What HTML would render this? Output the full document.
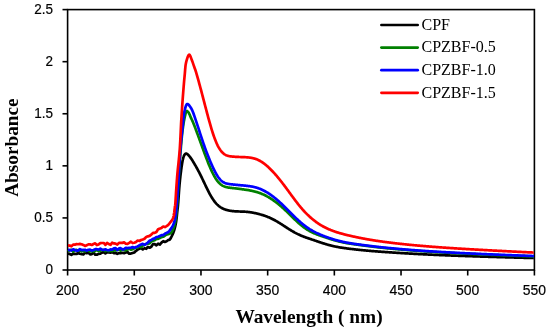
<!DOCTYPE html>
<html><head><meta charset="utf-8"><style>
html,body{margin:0;padding:0;background:#fff;width:550px;height:331px;overflow:hidden;position:relative}
.t{font-family:"Liberation Sans",sans-serif;font-size:15.0px;fill:#000;stroke:#000;stroke-width:0.2px}
.lg{font-family:"Liberation Serif",serif;font-size:16px;fill:#000}
.ax{font-family:"Liberation Serif",serif;font-weight:bold;font-size:19px;fill:#000}
</style></head><body>
<svg width="550" height="331" viewBox="0 0 550 331" style="position:absolute;left:0;top:0;will-change:transform">
<rect x="67.6" y="9.6" width="466.79999999999995" height="260.4" fill="none" stroke="#000" stroke-width="1.6"/>
<line x1="62.5" y1="270.00" x2="67.6" y2="270.00" stroke="#000" stroke-width="1.6"/>
<text transform="translate(53,274.40) scale(0.9,1)" text-anchor="end" class="t">0</text>
<line x1="62.5" y1="217.92" x2="67.6" y2="217.92" stroke="#000" stroke-width="1.6"/>
<text transform="translate(53,222.32) scale(0.9,1)" text-anchor="end" class="t">0.5</text>
<line x1="62.5" y1="165.84" x2="67.6" y2="165.84" stroke="#000" stroke-width="1.6"/>
<text transform="translate(53,170.24) scale(0.9,1)" text-anchor="end" class="t">1</text>
<line x1="62.5" y1="113.76" x2="67.6" y2="113.76" stroke="#000" stroke-width="1.6"/>
<text transform="translate(53,118.16) scale(0.9,1)" text-anchor="end" class="t">1.5</text>
<line x1="62.5" y1="61.68" x2="67.6" y2="61.68" stroke="#000" stroke-width="1.6"/>
<text transform="translate(53,66.08) scale(0.9,1)" text-anchor="end" class="t">2</text>
<line x1="62.5" y1="9.60" x2="67.6" y2="9.60" stroke="#000" stroke-width="1.6"/>
<text transform="translate(53,14.00) scale(0.9,1)" text-anchor="end" class="t">2.5</text>
<line x1="67.60" y1="270.0" x2="67.60" y2="275.5" stroke="#000" stroke-width="1.6"/>
<text transform="translate(67.60,295.2) scale(0.93,1)" text-anchor="middle" class="t">200</text>
<line x1="134.29" y1="270.0" x2="134.29" y2="275.5" stroke="#000" stroke-width="1.6"/>
<text transform="translate(134.29,295.2) scale(0.93,1)" text-anchor="middle" class="t">250</text>
<line x1="200.97" y1="270.0" x2="200.97" y2="275.5" stroke="#000" stroke-width="1.6"/>
<text transform="translate(200.97,295.2) scale(0.93,1)" text-anchor="middle" class="t">300</text>
<line x1="267.66" y1="270.0" x2="267.66" y2="275.5" stroke="#000" stroke-width="1.6"/>
<text transform="translate(267.66,295.2) scale(0.93,1)" text-anchor="middle" class="t">350</text>
<line x1="334.34" y1="270.0" x2="334.34" y2="275.5" stroke="#000" stroke-width="1.6"/>
<text transform="translate(334.34,295.2) scale(0.93,1)" text-anchor="middle" class="t">400</text>
<line x1="401.03" y1="270.0" x2="401.03" y2="275.5" stroke="#000" stroke-width="1.6"/>
<text transform="translate(401.03,295.2) scale(0.93,1)" text-anchor="middle" class="t">450</text>
<line x1="467.71" y1="270.0" x2="467.71" y2="275.5" stroke="#000" stroke-width="1.6"/>
<text transform="translate(467.71,295.2) scale(0.93,1)" text-anchor="middle" class="t">500</text>
<line x1="534.40" y1="270.0" x2="534.40" y2="275.5" stroke="#000" stroke-width="1.6"/>
<text transform="translate(534.40,295.2) scale(0.93,1)" text-anchor="middle" class="t">550</text>
<path d="M68.00 253.68 L69.70 253.95 L71.40 254.86 L73.10 253.70 L74.80 253.80 L76.50 253.99 L78.20 252.97 L79.90 253.77 L81.60 254.05 L83.30 254.44 L85.00 252.68 L86.70 253.18 L88.40 252.63 L90.10 254.40 L91.80 254.08 L93.50 252.43 L95.20 254.75 L96.90 254.68 L98.60 253.88 L100.30 253.75 L102.00 252.58 L103.70 252.19 L105.40 253.44 L107.10 252.23 L108.80 252.52 L110.50 252.60 L112.20 252.01 L113.90 253.04 L115.60 252.92 L117.30 253.86 L119.00 252.98 L120.70 253.21 L122.40 252.78 L124.10 253.10 L125.80 252.51 L127.50 251.98 L129.20 253.68 L130.90 253.56 L132.60 253.01 L134.30 252.47 L136.00 250.79 L137.70 249.56 L139.40 248.85 L141.10 247.93 L142.80 249.46 L144.50 248.23 L146.20 248.79 L147.90 246.95 L149.60 247.69 L151.30 246.82 L153.00 244.12 L154.70 244.08 L156.40 245.31 L158.10 243.74 L159.80 244.56 L161.50 242.58 L163.20 241.19 L164.90 241.95 L166.60 241.31 L168.30 239.98 L168.35 239.96 L168.41 239.96 L168.46 239.95 L168.52 239.94 L168.57 239.94 L168.63 239.94 L168.68 239.93 L168.74 239.93 L168.79 239.93 L168.85 239.92 L168.90 239.92 L168.95 239.92 L169.01 239.91 L169.06 239.90 L169.12 239.89 L169.17 239.88 L169.23 239.87 L169.28 239.86 L169.33 239.84 L169.39 239.82 L169.44 239.79 L169.49 239.77 L169.55 239.74 L169.60 239.70 L169.69 239.63 L169.78 239.55 L169.87 239.45 L169.97 239.35 L170.06 239.23 L170.15 239.11 L170.24 238.98 L170.33 238.84 L170.41 238.70 L170.50 238.55 L170.59 238.39 L170.68 238.23 L170.77 238.07 L170.85 237.90 L170.94 237.73 L171.03 237.56 L171.11 237.39 L171.20 237.21 L171.28 237.04 L171.37 236.87 L171.45 236.70 L171.53 236.53 L171.62 236.36 L171.70 236.20 L171.79 236.02 L171.89 235.84 L171.98 235.65 L172.07 235.47 L172.16 235.28 L172.26 235.10 L172.35 234.91 L172.44 234.72 L172.53 234.53 L172.62 234.34 L172.71 234.15 L172.79 233.95 L172.88 233.75 L172.97 233.55 L173.06 233.35 L173.14 233.15 L173.23 232.94 L173.31 232.73 L173.39 232.51 L173.48 232.30 L173.56 232.08 L173.64 231.86 L173.72 231.63 L173.80 231.40 L173.90 231.10 L174.00 230.79 L174.10 230.48 L174.20 230.16 L174.30 229.84 L174.39 229.51 L174.49 229.18 L174.58 228.84 L174.67 228.50 L174.76 228.15 L174.86 227.80 L174.94 227.45 L175.03 227.09 L175.12 226.73 L175.20 226.37 L175.29 226.00 L175.37 225.64 L175.45 225.26 L175.53 224.89 L175.61 224.52 L175.68 224.14 L175.76 223.76 L175.83 223.38 L175.90 223.00 L175.98 222.55 L176.06 222.09 L176.13 221.61 L176.20 221.13 L176.27 220.63 L176.34 220.13 L176.41 219.63 L176.47 219.12 L176.53 218.60 L176.59 218.09 L176.65 217.57 L176.70 217.05 L176.76 216.54 L176.81 216.02 L176.86 215.51 L176.91 215.01 L176.96 214.51 L177.01 214.02 L177.06 213.54 L177.11 213.07 L177.16 212.60 L177.20 212.16 L177.25 211.72 L177.30 211.30 L177.33 211.00 L177.37 210.72 L177.40 210.44 L177.43 210.18 L177.46 209.92 L177.49 209.67 L177.52 209.43 L177.55 209.19 L177.58 208.95 L177.61 208.72 L177.63 208.49 L177.66 208.25 L177.69 208.02 L177.72 207.78 L177.74 207.54 L177.77 207.29 L177.80 207.04 L177.82 206.78 L177.85 206.51 L177.88 206.23 L177.91 205.94 L177.94 205.64 L177.97 205.33 L178.00 205.00 L178.06 204.38 L178.11 203.71 L178.17 203.01 L178.23 202.27 L178.29 201.49 L178.35 200.69 L178.41 199.86 L178.47 199.01 L178.53 198.13 L178.59 197.25 L178.65 196.34 L178.71 195.43 L178.78 194.52 L178.84 193.60 L178.90 192.68 L178.97 191.76 L179.03 190.86 L179.10 189.96 L179.16 189.08 L179.23 188.21 L179.30 187.37 L179.36 186.55 L179.43 185.76 L179.50 185.00 L179.55 184.40 L179.61 183.82 L179.66 183.24 L179.72 182.67 L179.77 182.10 L179.82 181.54 L179.88 180.99 L179.93 180.44 L179.99 179.90 L180.04 179.36 L180.10 178.83 L180.15 178.30 L180.21 177.77 L180.27 177.24 L180.33 176.72 L180.39 176.20 L180.45 175.67 L180.51 175.15 L180.57 174.63 L180.63 174.11 L180.70 173.58 L180.76 173.06 L180.83 172.53 L180.90 172.00 L180.97 171.48 L181.04 170.95 L181.11 170.41 L181.18 169.87 L181.25 169.33 L181.32 168.78 L181.40 168.23 L181.47 167.68 L181.55 167.13 L181.62 166.58 L181.70 166.04 L181.78 165.50 L181.86 164.97 L181.94 164.44 L182.02 163.92 L182.10 163.41 L182.19 162.91 L182.27 162.42 L182.36 161.94 L182.44 161.48 L182.53 161.04 L182.62 160.61 L182.71 160.19 L182.80 159.80 L182.86 159.56 L182.91 159.33 L182.97 159.09 L183.02 158.87 L183.08 158.64 L183.13 158.42 L183.19 158.21 L183.24 157.99 L183.30 157.78 L183.35 157.58 L183.41 157.38 L183.47 157.18 L183.52 156.99 L183.58 156.81 L183.65 156.62 L183.71 156.45 L183.77 156.27 L183.84 156.10 L183.91 155.94 L183.98 155.78 L184.06 155.63 L184.14 155.48 L184.22 155.34 L184.30 155.20 L184.36 155.11 L184.42 155.01 L184.48 154.92 L184.55 154.83 L184.61 154.73 L184.68 154.64 L184.74 154.55 L184.81 154.47 L184.88 154.38 L184.95 154.30 L185.02 154.22 L185.09 154.14 L185.16 154.07 L185.23 154.00 L185.31 153.94 L185.38 153.88 L185.46 153.82 L185.53 153.77 L185.61 153.73 L185.69 153.69 L185.76 153.66 L185.84 153.63 L185.92 153.61 L186.00 153.60 L186.09 153.60 L186.30 153.62 L186.80 153.81 L187.30 154.14 L187.80 154.55 L188.30 155.00 L188.80 155.51 L189.30 156.09 L189.80 156.74 L190.30 157.42 L190.80 158.13 L191.30 158.85 L191.80 159.59 L192.30 160.36 L192.80 161.15 L193.30 161.95 L193.80 162.77 L194.30 163.61 L194.80 164.46 L195.30 165.32 L195.80 166.20 L196.30 167.08 L196.80 167.98 L197.30 168.90 L197.80 169.82 L198.30 170.76 L198.80 171.71 L199.30 172.67 L199.80 173.65 L200.30 174.64 L200.80 175.65 L201.30 176.66 L201.80 177.69 L202.30 178.72 L202.80 179.76 L203.30 180.81 L203.80 181.87 L204.30 182.92 L204.80 183.98 L205.30 185.03 L205.80 186.08 L206.30 187.12 L206.80 188.15 L207.30 189.17 L207.80 190.18 L208.30 191.17 L208.80 192.14 L209.30 193.09 L209.80 194.02 L210.30 194.92 L210.80 195.80 L211.30 196.65 L211.80 197.48 L212.30 198.28 L212.80 199.05 L213.30 199.78 L213.80 200.49 L214.30 201.17 L214.80 201.82 L215.30 202.44 L215.80 203.02 L216.30 203.58 L216.80 204.11 L217.30 204.61 L217.80 205.08 L218.30 205.53 L218.80 205.95 L219.30 206.34 L219.80 206.71 L220.30 207.06 L220.80 207.39 L221.30 207.70 L221.80 207.98 L222.30 208.25 L222.80 208.51 L223.30 208.74 L223.80 208.96 L224.30 209.17 L224.80 209.37 L225.30 209.55 L225.80 209.72 L226.30 209.88 L226.80 210.03 L227.30 210.16 L227.80 210.29 L228.30 210.41 L228.80 210.52 L229.30 210.62 L229.80 210.71 L230.30 210.79 L230.80 210.87 L231.30 210.93 L231.80 211.00 L232.30 211.06 L232.80 211.11 L233.30 211.16 L233.80 211.21 L234.30 211.25 L234.80 211.29 L235.30 211.32 L235.80 211.36 L236.30 211.38 L236.80 211.41 L237.30 211.43 L237.80 211.45 L238.30 211.47 L238.80 211.49 L239.30 211.51 L239.80 211.52 L240.30 211.54 L240.80 211.55 L241.30 211.57 L241.80 211.58 L242.30 211.60 L242.80 211.62 L243.30 211.64 L243.80 211.66 L244.30 211.68 L244.80 211.71 L245.30 211.74 L245.80 211.77 L246.30 211.81 L246.80 211.85 L247.30 211.90 L247.80 211.94 L248.30 212.00 L248.80 212.05 L249.30 212.12 L249.80 212.18 L250.30 212.25 L250.80 212.33 L251.30 212.41 L251.80 212.49 L252.30 212.58 L252.80 212.67 L253.30 212.77 L253.80 212.87 L254.30 212.97 L254.80 213.08 L255.30 213.19 L255.80 213.30 L256.30 213.41 L256.80 213.53 L257.30 213.65 L257.80 213.77 L258.30 213.90 L258.80 214.03 L259.30 214.16 L259.80 214.29 L260.30 214.43 L260.80 214.57 L261.30 214.71 L261.80 214.86 L262.30 215.01 L262.80 215.16 L263.30 215.32 L263.80 215.48 L264.30 215.65 L264.80 215.82 L265.30 215.99 L265.80 216.17 L266.30 216.36 L266.80 216.55 L267.30 216.74 L267.80 216.94 L268.30 217.14 L268.80 217.35 L269.30 217.56 L269.80 217.78 L270.30 218.01 L270.80 218.24 L271.30 218.47 L271.80 218.71 L272.30 218.96 L272.80 219.21 L273.30 219.46 L273.80 219.73 L274.30 219.99 L274.80 220.26 L275.30 220.54 L275.80 220.82 L276.30 221.10 L276.80 221.39 L277.30 221.69 L277.80 221.99 L278.30 222.29 L278.80 222.59 L279.30 222.90 L279.80 223.21 L280.30 223.53 L280.80 223.84 L281.30 224.16 L281.80 224.48 L282.30 224.81 L282.80 225.13 L283.30 225.46 L283.80 225.78 L284.30 226.11 L284.80 226.44 L285.30 226.76 L285.80 227.09 L286.30 227.42 L286.80 227.74 L287.30 228.06 L287.80 228.38 L288.30 228.70 L288.80 229.02 L289.30 229.34 L289.80 229.65 L290.30 229.96 L290.80 230.26 L291.30 230.57 L291.80 230.87 L292.30 231.16 L292.80 231.45 L293.30 231.74 L293.80 232.02 L294.30 232.30 L294.80 232.58 L295.30 232.84 L295.80 233.11 L296.30 233.37 L296.80 233.62 L297.30 233.87 L297.80 234.12 L298.30 234.36 L298.80 234.59 L299.30 234.82 L299.80 235.05 L300.30 235.27 L300.80 235.49 L301.30 235.70 L301.80 235.91 L302.30 236.11 L302.80 236.31 L303.30 236.50 L303.80 236.70 L304.30 236.88 L304.80 237.07 L305.30 237.25 L305.80 237.43 L306.30 237.61 L306.80 237.79 L307.30 237.96 L307.80 238.13 L308.30 238.31 L308.80 238.48 L309.30 238.65 L309.80 238.82 L310.30 238.98 L310.80 239.15 L311.30 239.32 L311.80 239.49 L312.30 239.66 L312.80 239.83 L313.30 240.00 L313.80 240.16 L314.30 240.33 L314.80 240.50 L315.30 240.67 L315.80 240.84 L316.30 241.01 L316.80 241.18 L317.30 241.35 L317.80 241.52 L318.30 241.69 L318.80 241.86 L319.30 242.03 L319.80 242.20 L320.30 242.36 L320.80 242.53 L321.30 242.70 L321.80 242.86 L322.30 243.02 L322.80 243.18 L323.30 243.34 L323.80 243.50 L324.30 243.66 L324.80 243.81 L325.30 243.97 L325.80 244.12 L326.30 244.27 L326.80 244.42 L327.30 244.56 L327.80 244.71 L328.30 244.85 L328.80 244.98 L329.30 245.12 L329.80 245.25 L330.30 245.38 L330.80 245.51 L331.30 245.64 L331.80 245.76 L332.30 245.88 L332.80 246.00 L333.30 246.12 L333.80 246.23 L334.30 246.34 L334.80 246.45 L335.30 246.55 L335.80 246.65 L336.30 246.75 L336.80 246.85 L337.30 246.94 L337.80 247.04 L338.30 247.13 L338.80 247.21 L339.30 247.30 L339.80 247.38 L340.30 247.47 L340.80 247.55 L341.30 247.63 L341.80 247.70 L342.30 247.78 L342.80 247.85 L343.30 247.93 L343.80 248.00 L344.30 248.07 L344.80 248.14 L345.30 248.21 L345.80 248.27 L346.30 248.34 L346.80 248.41 L347.30 248.47 L347.80 248.54 L348.30 248.60 L348.80 248.66 L349.30 248.72 L349.80 248.79 L350.30 248.85 L350.80 248.91 L351.30 248.97 L351.80 249.03 L352.30 249.09 L352.80 249.15 L353.30 249.20 L353.80 249.26 L354.30 249.32 L354.80 249.38 L355.30 249.43 L355.80 249.49 L356.30 249.54 L356.80 249.60 L357.30 249.65 L357.80 249.71 L358.30 249.76 L358.80 249.81 L359.30 249.86 L359.80 249.92 L360.30 249.97 L360.80 250.02 L361.30 250.07 L361.80 250.12 L362.30 250.17 L362.80 250.22 L363.30 250.27 L363.80 250.31 L364.30 250.36 L364.80 250.41 L365.30 250.46 L365.80 250.50 L366.30 250.55 L366.80 250.59 L367.30 250.64 L367.80 250.68 L368.30 250.73 L368.80 250.77 L369.30 250.82 L369.80 250.86 L370.30 250.90 L370.80 250.94 L371.30 250.99 L371.80 251.03 L372.30 251.07 L372.80 251.11 L373.30 251.15 L373.80 251.19 L374.30 251.23 L374.80 251.27 L375.30 251.31 L375.80 251.35 L376.30 251.38 L376.80 251.42 L377.30 251.46 L377.80 251.50 L378.30 251.54 L378.80 251.57 L379.30 251.61 L379.80 251.65 L380.30 251.68 L380.80 251.72 L381.30 251.75 L381.80 251.79 L382.30 251.83 L382.80 251.86 L383.30 251.90 L383.80 251.93 L384.30 251.97 L384.80 252.00 L385.30 252.04 L385.80 252.07 L386.30 252.10 L386.80 252.14 L387.30 252.17 L387.80 252.21 L388.30 252.24 L388.80 252.27 L389.30 252.31 L389.80 252.34 L390.30 252.37 L390.80 252.41 L391.30 252.44 L391.80 252.47 L392.30 252.51 L392.80 252.54 L393.30 252.57 L393.80 252.60 L394.30 252.64 L394.80 252.67 L395.30 252.70 L395.80 252.73 L396.30 252.77 L396.80 252.80 L397.30 252.83 L397.80 252.86 L398.30 252.89 L398.80 252.92 L399.30 252.95 L399.80 252.99 L400.30 253.02 L400.80 253.05 L401.30 253.08 L401.80 253.11 L402.30 253.14 L402.80 253.17 L403.30 253.20 L403.80 253.23 L404.30 253.26 L404.80 253.29 L405.30 253.32 L405.80 253.35 L406.30 253.38 L406.80 253.41 L407.30 253.44 L407.80 253.46 L408.30 253.49 L408.80 253.52 L409.30 253.55 L409.80 253.58 L410.30 253.61 L410.80 253.64 L411.30 253.66 L411.80 253.69 L412.30 253.72 L412.80 253.75 L413.30 253.77 L413.80 253.80 L414.30 253.83 L414.80 253.86 L415.30 253.88 L415.80 253.91 L416.30 253.94 L416.80 253.96 L417.30 253.99 L417.80 254.02 L418.30 254.04 L418.80 254.07 L419.30 254.09 L419.80 254.12 L420.30 254.15 L420.80 254.17 L421.30 254.20 L421.80 254.22 L422.30 254.25 L422.80 254.27 L423.30 254.30 L423.80 254.32 L424.30 254.35 L424.80 254.37 L425.30 254.40 L425.80 254.42 L426.30 254.45 L426.80 254.47 L427.30 254.49 L427.80 254.52 L428.30 254.54 L428.80 254.57 L429.30 254.59 L429.80 254.61 L430.30 254.64 L430.80 254.66 L431.30 254.68 L431.80 254.71 L432.30 254.73 L432.80 254.75 L433.30 254.77 L433.80 254.80 L434.30 254.82 L434.80 254.84 L435.30 254.86 L435.80 254.89 L436.30 254.91 L436.80 254.93 L437.30 254.95 L437.80 254.97 L438.30 255.00 L438.80 255.02 L439.30 255.04 L439.80 255.06 L440.30 255.08 L440.80 255.10 L441.30 255.12 L441.80 255.15 L442.30 255.17 L442.80 255.19 L443.30 255.21 L443.80 255.23 L444.30 255.25 L444.80 255.27 L445.30 255.29 L445.80 255.31 L446.30 255.33 L446.80 255.35 L447.30 255.37 L447.80 255.39 L448.30 255.41 L448.80 255.43 L449.30 255.45 L449.80 255.47 L450.30 255.49 L450.80 255.51 L451.30 255.53 L451.80 255.55 L452.30 255.57 L452.80 255.58 L453.30 255.60 L453.80 255.62 L454.30 255.64 L454.80 255.66 L455.30 255.68 L455.80 255.70 L456.30 255.72 L456.80 255.73 L457.30 255.75 L457.80 255.77 L458.30 255.79 L458.80 255.81 L459.30 255.82 L459.80 255.84 L460.30 255.86 L460.80 255.88 L461.30 255.90 L461.80 255.91 L462.30 255.93 L462.80 255.95 L463.30 255.97 L463.80 255.98 L464.30 256.00 L464.80 256.02 L465.30 256.04 L465.80 256.05 L466.30 256.07 L466.80 256.09 L467.30 256.11 L467.80 256.12 L468.30 256.14 L468.80 256.16 L469.30 256.17 L469.80 256.19 L470.30 256.21 L470.80 256.22 L471.30 256.24 L471.80 256.26 L472.30 256.27 L472.80 256.29 L473.30 256.31 L473.80 256.32 L474.30 256.34 L474.80 256.36 L475.30 256.37 L475.80 256.39 L476.30 256.40 L476.80 256.42 L477.30 256.44 L477.80 256.45 L478.30 256.47 L478.80 256.49 L479.30 256.50 L479.80 256.52 L480.30 256.53 L480.80 256.55 L481.30 256.56 L481.80 256.58 L482.30 256.60 L482.80 256.61 L483.30 256.63 L483.80 256.64 L484.30 256.66 L484.80 256.67 L485.30 256.69 L485.80 256.70 L486.30 256.72 L486.80 256.74 L487.30 256.75 L487.80 256.77 L488.30 256.78 L488.80 256.80 L489.30 256.81 L489.80 256.83 L490.30 256.84 L490.80 256.86 L491.30 256.87 L491.80 256.89 L492.30 256.90 L492.80 256.92 L493.30 256.93 L493.80 256.95 L494.30 256.96 L494.80 256.98 L495.30 256.99 L495.80 257.01 L496.30 257.02 L496.80 257.03 L497.30 257.05 L497.80 257.06 L498.30 257.08 L498.80 257.09 L499.30 257.11 L499.80 257.12 L500.30 257.14 L500.80 257.15 L501.30 257.17 L501.80 257.18 L502.30 257.19 L502.80 257.21 L503.30 257.22 L503.80 257.24 L504.30 257.25 L504.80 257.26 L505.30 257.28 L505.80 257.29 L506.30 257.31 L506.80 257.32 L507.30 257.33 L507.80 257.35 L508.30 257.36 L508.80 257.38 L509.30 257.39 L509.80 257.40 L510.30 257.42 L510.80 257.43 L511.30 257.45 L511.80 257.46 L512.30 257.47 L512.80 257.49 L513.30 257.50 L513.80 257.51 L514.30 257.53 L514.80 257.54 L515.30 257.55 L515.80 257.57 L516.30 257.58 L516.80 257.60 L517.30 257.61 L517.80 257.62 L518.30 257.64 L518.80 257.65 L519.30 257.66 L519.80 257.68 L520.30 257.69 L520.80 257.70 L521.30 257.71 L521.80 257.73 L522.30 257.74 L522.80 257.75 L523.30 257.77 L523.80 257.78 L524.30 257.79 L524.80 257.81 L525.30 257.82 L525.80 257.83 L526.30 257.84 L526.80 257.86 L527.30 257.87 L527.80 257.88 L528.30 257.90 L528.80 257.91 L529.30 257.92 L529.80 257.93 L530.30 257.95 L530.80 257.96 L531.30 257.97 L531.80 257.98 L532.30 258.00 L532.80 258.01 L533.30 258.02 L533.80 258.03" fill="none" stroke="#000000" stroke-width="2.7" stroke-linejoin="round" stroke-linecap="butt"/>
<path d="M68.00 251.62 L69.70 249.98 L71.40 249.74 L73.10 251.69 L74.80 250.06 L76.50 249.92 L78.20 250.98 L79.90 250.35 L81.60 251.43 L83.30 250.10 L85.00 251.55 L86.70 250.25 L88.40 250.80 L90.10 251.44 L91.80 250.93 L93.50 251.39 L95.20 250.94 L96.90 249.60 L98.60 251.24 L100.30 250.63 L102.00 250.05 L103.70 249.78 L105.40 251.07 L107.10 250.50 L108.80 251.15 L110.50 250.76 L112.20 251.06 L113.90 250.19 L115.60 250.37 L117.30 250.10 L119.00 249.30 L120.70 250.60 L122.40 249.22 L124.10 250.06 L125.80 250.31 L127.50 249.62 L129.20 248.51 L130.90 249.76 L132.60 249.29 L134.30 248.13 L136.00 247.39 L137.70 247.66 L139.40 245.91 L141.10 247.02 L142.80 245.50 L144.50 244.82 L146.20 243.89 L147.90 243.66 L149.60 243.41 L151.30 241.40 L153.00 240.69 L154.70 240.26 L156.40 238.92 L158.10 238.84 L159.80 238.08 L161.50 237.14 L163.20 236.79 L164.90 235.63 L166.60 234.43 L166.68 234.42 L166.76 234.41 L166.84 234.40 L166.91 234.39 L166.99 234.38 L167.07 234.37 L167.15 234.36 L167.23 234.35 L167.30 234.34 L167.38 234.34 L167.46 234.33 L167.54 234.32 L167.62 234.31 L167.69 234.30 L167.77 234.28 L167.85 234.27 L167.93 234.26 L168.01 234.24 L168.09 234.22 L168.17 234.20 L168.25 234.18 L168.33 234.16 L168.42 234.13 L168.50 234.10 L168.61 234.06 L168.72 234.02 L168.83 233.98 L168.94 233.93 L169.05 233.89 L169.17 233.84 L169.29 233.79 L169.40 233.73 L169.52 233.68 L169.64 233.62 L169.76 233.56 L169.87 233.50 L169.99 233.44 L170.11 233.37 L170.22 233.30 L170.34 233.22 L170.45 233.15 L170.57 233.07 L170.68 232.98 L170.79 232.89 L170.89 232.80 L171.00 232.70 L171.10 232.60 L171.20 232.50 L171.33 232.35 L171.46 232.19 L171.59 232.02 L171.72 231.84 L171.84 231.65 L171.96 231.45 L172.08 231.25 L172.20 231.04 L172.31 230.83 L172.42 230.60 L172.53 230.38 L172.64 230.15 L172.74 229.91 L172.85 229.67 L172.95 229.43 L173.05 229.18 L173.15 228.94 L173.25 228.69 L173.34 228.44 L173.44 228.19 L173.53 227.94 L173.62 227.69 L173.71 227.45 L173.80 227.20 L173.90 226.92 L173.99 226.64 L174.09 226.36 L174.18 226.08 L174.27 225.80 L174.35 225.52 L174.43 225.23 L174.51 224.94 L174.59 224.65 L174.67 224.36 L174.74 224.06 L174.81 223.76 L174.89 223.45 L174.96 223.15 L175.02 222.83 L175.09 222.52 L175.16 222.20 L175.22 221.87 L175.29 221.54 L175.35 221.20 L175.41 220.86 L175.48 220.51 L175.54 220.16 L175.60 219.80 L175.69 219.29 L175.77 218.76 L175.85 218.23 L175.92 217.68 L175.99 217.12 L176.07 216.56 L176.13 215.98 L176.20 215.40 L176.26 214.80 L176.32 214.20 L176.38 213.59 L176.44 212.97 L176.50 212.34 L176.56 211.71 L176.61 211.06 L176.67 210.41 L176.72 209.76 L176.77 209.10 L176.83 208.43 L176.88 207.75 L176.93 207.07 L176.99 206.39 L177.04 205.70 L177.10 205.00 L177.17 204.08 L177.24 203.14 L177.31 202.17 L177.38 201.18 L177.45 200.17 L177.51 199.14 L177.58 198.10 L177.64 197.05 L177.70 195.98 L177.76 194.91 L177.82 193.82 L177.88 192.73 L177.94 191.64 L178.00 190.55 L178.06 189.46 L178.12 188.37 L178.18 187.28 L178.24 186.21 L178.30 185.14 L178.36 184.08 L178.42 183.04 L178.48 182.01 L178.54 180.99 L178.60 180.00 L178.65 179.13 L178.71 178.27 L178.76 177.42 L178.81 176.58 L178.86 175.76 L178.91 174.94 L178.96 174.12 L179.01 173.32 L179.05 172.51 L179.10 171.71 L179.15 170.91 L179.20 170.11 L179.25 169.31 L179.30 168.51 L179.35 167.70 L179.41 166.88 L179.46 166.06 L179.52 165.23 L179.58 164.39 L179.64 163.54 L179.70 162.68 L179.76 161.80 L179.83 160.91 L179.90 160.00 L179.99 158.86 L180.08 157.68 L180.17 156.46 L180.27 155.22 L180.37 153.95 L180.47 152.66 L180.57 151.35 L180.67 150.03 L180.78 148.69 L180.89 147.35 L181.00 146.01 L181.11 144.66 L181.23 143.33 L181.35 142.00 L181.46 140.68 L181.59 139.38 L181.71 138.10 L181.83 136.84 L181.96 135.61 L182.08 134.41 L182.21 133.25 L182.34 132.12 L182.47 131.04 L182.60 130.00 L182.69 129.31 L182.78 128.62 L182.88 127.94 L182.97 127.27 L183.06 126.61 L183.16 125.95 L183.25 125.31 L183.35 124.67 L183.45 124.04 L183.54 123.42 L183.64 122.81 L183.74 122.21 L183.84 121.63 L183.94 121.05 L184.05 120.49 L184.15 119.93 L184.25 119.39 L184.36 118.87 L184.46 118.35 L184.57 117.85 L184.67 117.37 L184.78 116.90 L184.89 116.44 L185.00 116.00 L185.07 115.73 L185.13 115.46 L185.20 115.19 L185.26 114.91 L185.32 114.63 L185.38 114.36 L185.45 114.08 L185.51 113.81 L185.57 113.55 L185.63 113.29 L185.70 113.03 L185.76 112.79 L185.83 112.55 L185.90 112.33 L185.97 112.12 L186.04 111.92 L186.11 111.74 L186.19 111.58 L186.26 111.43 L186.34 111.30 L186.43 111.19 L186.52 111.10 L186.61 111.04 L186.70 111.00 L186.76 110.99 L186.83 110.98 L187.00 111.02 L187.50 111.33 L188.00 111.86 L188.50 112.50 L189.00 113.29 L189.50 114.32 L190.00 115.49 L190.50 116.71 L191.00 117.87 L191.50 118.97 L192.00 120.04 L192.50 121.14 L193.00 122.28 L193.50 123.46 L194.00 124.68 L194.50 125.95 L195.00 127.27 L195.50 128.61 L196.00 129.96 L196.50 131.31 L197.00 132.67 L197.50 134.03 L198.00 135.39 L198.50 136.76 L199.00 138.13 L199.50 139.51 L200.00 140.88 L200.50 142.26 L201.00 143.64 L201.50 145.01 L202.00 146.39 L202.50 147.76 L203.00 149.13 L203.50 150.49 L204.00 151.86 L204.50 153.21 L205.00 154.56 L205.50 155.89 L206.00 157.22 L206.50 158.54 L207.00 159.84 L207.50 161.13 L208.00 162.40 L208.50 163.65 L209.00 164.88 L209.50 166.09 L210.00 167.27 L210.50 168.42 L211.00 169.55 L211.50 170.65 L212.00 171.72 L212.50 172.75 L213.00 173.75 L213.50 174.71 L214.00 175.64 L214.50 176.53 L215.00 177.38 L215.50 178.19 L216.00 178.97 L216.50 179.70 L217.00 180.40 L217.50 181.06 L218.00 181.68 L218.50 182.26 L219.00 182.80 L219.50 183.31 L220.00 183.78 L220.50 184.21 L221.00 184.61 L221.50 184.98 L222.00 185.31 L222.50 185.62 L223.00 185.89 L223.50 186.14 L224.00 186.37 L224.50 186.57 L225.00 186.75 L225.50 186.91 L226.00 187.05 L226.50 187.18 L227.00 187.29 L227.50 187.39 L228.00 187.48 L228.50 187.56 L229.00 187.63 L229.50 187.70 L230.00 187.76 L230.50 187.82 L231.00 187.88 L231.50 187.94 L232.00 188.00 L232.50 188.05 L233.00 188.11 L233.50 188.17 L234.00 188.23 L234.50 188.28 L235.00 188.34 L235.50 188.40 L236.00 188.46 L236.50 188.52 L237.00 188.58 L237.50 188.65 L238.00 188.71 L238.50 188.77 L239.00 188.83 L239.50 188.90 L240.00 188.96 L240.50 189.03 L241.00 189.09 L241.50 189.16 L242.00 189.22 L242.50 189.29 L243.00 189.36 L243.50 189.43 L244.00 189.50 L244.50 189.57 L245.00 189.65 L245.50 189.72 L246.00 189.80 L246.50 189.87 L247.00 189.95 L247.50 190.03 L248.00 190.12 L248.50 190.20 L249.00 190.29 L249.50 190.38 L250.00 190.47 L250.50 190.57 L251.00 190.66 L251.50 190.76 L252.00 190.87 L252.50 190.98 L253.00 191.09 L253.50 191.20 L254.00 191.32 L254.50 191.45 L255.00 191.57 L255.50 191.71 L256.00 191.84 L256.50 191.99 L257.00 192.14 L257.50 192.29 L258.00 192.45 L258.50 192.61 L259.00 192.78 L259.50 192.96 L260.00 193.14 L260.50 193.33 L261.00 193.52 L261.50 193.72 L262.00 193.93 L262.50 194.15 L263.00 194.37 L263.50 194.59 L264.00 194.82 L264.50 195.06 L265.00 195.31 L265.50 195.56 L266.00 195.82 L266.50 196.08 L267.00 196.35 L267.50 196.63 L268.00 196.91 L268.50 197.20 L269.00 197.49 L269.50 197.80 L270.00 198.10 L270.50 198.42 L271.00 198.74 L271.50 199.06 L272.00 199.39 L272.50 199.73 L273.00 200.07 L273.50 200.42 L274.00 200.78 L274.50 201.14 L275.00 201.50 L275.50 201.88 L276.00 202.25 L276.50 202.64 L277.00 203.02 L277.50 203.42 L278.00 203.82 L278.50 204.22 L279.00 204.63 L279.50 205.05 L280.00 205.47 L280.50 205.90 L281.00 206.33 L281.50 206.76 L282.00 207.20 L282.50 207.65 L283.00 208.10 L283.50 208.55 L284.00 209.01 L284.50 209.47 L285.00 209.93 L285.50 210.40 L286.00 210.88 L286.50 211.35 L287.00 211.83 L287.50 212.31 L288.00 212.80 L288.50 213.29 L289.00 213.77 L289.50 214.26 L290.00 214.76 L290.50 215.25 L291.00 215.74 L291.50 216.23 L292.00 216.73 L292.50 217.22 L293.00 217.71 L293.50 218.20 L294.00 218.69 L294.50 219.18 L295.00 219.66 L295.50 220.14 L296.00 220.61 L296.50 221.09 L297.00 221.55 L297.50 222.02 L298.00 222.48 L298.50 222.93 L299.00 223.37 L299.50 223.81 L300.00 224.25 L300.50 224.67 L301.00 225.09 L301.50 225.50 L302.00 225.91 L302.50 226.30 L303.00 226.69 L303.50 227.07 L304.00 227.44 L304.50 227.81 L305.00 228.16 L305.50 228.51 L306.00 228.85 L306.50 229.18 L307.00 229.50 L307.50 229.81 L308.00 230.12 L308.50 230.41 L309.00 230.70 L309.50 230.99 L310.00 231.26 L310.50 231.53 L311.00 231.78 L311.50 232.04 L312.00 232.28 L312.50 232.52 L313.00 232.76 L313.50 232.98 L314.00 233.20 L314.50 233.42 L315.00 233.63 L315.50 233.84 L316.00 234.04 L316.50 234.24 L317.00 234.44 L317.50 234.63 L318.00 234.82 L318.50 235.00 L319.00 235.19 L319.50 235.37 L320.00 235.55 L320.50 235.72 L321.00 235.90 L321.50 236.07 L322.00 236.24 L322.50 236.42 L323.00 236.59 L323.50 236.76 L324.00 236.92 L324.50 237.09 L325.00 237.26 L325.50 237.42 L326.00 237.59 L326.50 237.75 L327.00 237.92 L327.50 238.08 L328.00 238.24 L328.50 238.40 L329.00 238.56 L329.50 238.72 L330.00 238.88 L330.50 239.03 L331.00 239.19 L331.50 239.34 L332.00 239.50 L332.50 239.65 L333.00 239.80 L333.50 239.95 L334.00 240.09 L334.50 240.24 L335.00 240.38 L335.50 240.52 L336.00 240.66 L336.50 240.80 L337.00 240.93 L337.50 241.06 L338.00 241.19 L338.50 241.32 L339.00 241.45 L339.50 241.57 L340.00 241.69 L340.50 241.81 L341.00 241.93 L341.50 242.04 L342.00 242.15 L342.50 242.26 L343.00 242.37 L343.50 242.47 L344.00 242.58 L344.50 242.68 L345.00 242.77 L345.50 242.87 L346.00 242.96 L346.50 243.05 L347.00 243.14 L347.50 243.23 L348.00 243.31 L348.50 243.40 L349.00 243.48 L349.50 243.56 L350.00 243.64 L350.50 243.71 L351.00 243.79 L351.50 243.86 L352.00 243.94 L352.50 244.01 L353.00 244.08 L353.50 244.15 L354.00 244.22 L354.50 244.29 L355.00 244.36 L355.50 244.43 L356.00 244.50 L356.50 244.57 L357.00 244.64 L357.50 244.70 L358.00 244.77 L358.50 244.84 L359.00 244.90 L359.50 244.97 L360.00 245.04 L360.50 245.10 L361.00 245.17 L361.50 245.24 L362.00 245.30 L362.50 245.37 L363.00 245.44 L363.50 245.50 L364.00 245.57 L364.50 245.63 L365.00 245.70 L365.50 245.76 L366.00 245.83 L366.50 245.89 L367.00 245.96 L367.50 246.02 L368.00 246.09 L368.50 246.15 L369.00 246.22 L369.50 246.28 L370.00 246.34 L370.50 246.40 L371.00 246.47 L371.50 246.53 L372.00 246.59 L372.50 246.65 L373.00 246.71 L373.50 246.77 L374.00 246.83 L374.50 246.89 L375.00 246.95 L375.50 247.01 L376.00 247.07 L376.50 247.12 L377.00 247.18 L377.50 247.24 L378.00 247.29 L378.50 247.35 L379.00 247.40 L379.50 247.46 L380.00 247.51 L380.50 247.57 L381.00 247.62 L381.50 247.67 L382.00 247.73 L382.50 247.78 L383.00 247.83 L383.50 247.88 L384.00 247.94 L384.50 247.99 L385.00 248.04 L385.50 248.09 L386.00 248.14 L386.50 248.19 L387.00 248.24 L387.50 248.29 L388.00 248.34 L388.50 248.39 L389.00 248.43 L389.50 248.48 L390.00 248.53 L390.50 248.58 L391.00 248.63 L391.50 248.67 L392.00 248.72 L392.50 248.77 L393.00 248.81 L393.50 248.86 L394.00 248.90 L394.50 248.95 L395.00 249.00 L395.50 249.04 L396.00 249.09 L396.50 249.13 L397.00 249.18 L397.50 249.22 L398.00 249.26 L398.50 249.31 L399.00 249.35 L399.50 249.40 L400.00 249.44 L400.50 249.48 L401.00 249.53 L401.50 249.57 L402.00 249.61 L402.50 249.65 L403.00 249.70 L403.50 249.74 L404.00 249.78 L404.50 249.82 L405.00 249.86 L405.50 249.90 L406.00 249.95 L406.50 249.99 L407.00 250.03 L407.50 250.07 L408.00 250.11 L408.50 250.15 L409.00 250.19 L409.50 250.23 L410.00 250.27 L410.50 250.31 L411.00 250.35 L411.50 250.38 L412.00 250.42 L412.50 250.46 L413.00 250.50 L413.50 250.54 L414.00 250.58 L414.50 250.62 L415.00 250.65 L415.50 250.69 L416.00 250.73 L416.50 250.76 L417.00 250.80 L417.50 250.84 L418.00 250.88 L418.50 250.91 L419.00 250.95 L419.50 250.98 L420.00 251.02 L420.50 251.06 L421.00 251.09 L421.50 251.13 L422.00 251.16 L422.50 251.20 L423.00 251.23 L423.50 251.27 L424.00 251.30 L424.50 251.33 L425.00 251.37 L425.50 251.40 L426.00 251.44 L426.50 251.47 L427.00 251.50 L427.50 251.54 L428.00 251.57 L428.50 251.60 L429.00 251.63 L429.50 251.67 L430.00 251.70 L430.50 251.73 L431.00 251.76 L431.50 251.79 L432.00 251.83 L432.50 251.86 L433.00 251.89 L433.50 251.92 L434.00 251.95 L434.50 251.98 L435.00 252.01 L435.50 252.04 L436.00 252.07 L436.50 252.10 L437.00 252.13 L437.50 252.16 L438.00 252.19 L438.50 252.22 L439.00 252.25 L439.50 252.28 L440.00 252.31 L440.50 252.34 L441.00 252.37 L441.50 252.40 L442.00 252.43 L442.50 252.45 L443.00 252.48 L443.50 252.51 L444.00 252.54 L444.50 252.57 L445.00 252.59 L445.50 252.62 L446.00 252.65 L446.50 252.68 L447.00 252.70 L447.50 252.73 L448.00 252.76 L448.50 252.79 L449.00 252.81 L449.50 252.84 L450.00 252.87 L450.50 252.89 L451.00 252.92 L451.50 252.95 L452.00 252.97 L452.50 253.00 L453.00 253.02 L453.50 253.05 L454.00 253.08 L454.50 253.10 L455.00 253.13 L455.50 253.15 L456.00 253.18 L456.50 253.20 L457.00 253.23 L457.50 253.26 L458.00 253.28 L458.50 253.31 L459.00 253.33 L459.50 253.36 L460.00 253.38 L460.50 253.41 L461.00 253.43 L461.50 253.45 L462.00 253.48 L462.50 253.50 L463.00 253.53 L463.50 253.55 L464.00 253.58 L464.50 253.60 L465.00 253.63 L465.50 253.65 L466.00 253.67 L466.50 253.70 L467.00 253.72 L467.50 253.74 L468.00 253.77 L468.50 253.79 L469.00 253.82 L469.50 253.84 L470.00 253.86 L470.50 253.89 L471.00 253.91 L471.50 253.93 L472.00 253.96 L472.50 253.98 L473.00 254.00 L473.50 254.03 L474.00 254.05 L474.50 254.07 L475.00 254.09 L475.50 254.12 L476.00 254.14 L476.50 254.16 L477.00 254.19 L477.50 254.21 L478.00 254.23 L478.50 254.25 L479.00 254.28 L479.50 254.30 L480.00 254.32 L480.50 254.34 L481.00 254.36 L481.50 254.39 L482.00 254.41 L482.50 254.43 L483.00 254.45 L483.50 254.47 L484.00 254.50 L484.50 254.52 L485.00 254.54 L485.50 254.56 L486.00 254.58 L486.50 254.60 L487.00 254.63 L487.50 254.65 L488.00 254.67 L488.50 254.69 L489.00 254.71 L489.50 254.73 L490.00 254.75 L490.50 254.77 L491.00 254.80 L491.50 254.82 L492.00 254.84 L492.50 254.86 L493.00 254.88 L493.50 254.90 L494.00 254.92 L494.50 254.94 L495.00 254.96 L495.50 254.98 L496.00 255.00 L496.50 255.02 L497.00 255.04 L497.50 255.06 L498.00 255.08 L498.50 255.11 L499.00 255.13 L499.50 255.15 L500.00 255.17 L500.50 255.19 L501.00 255.21 L501.50 255.23 L502.00 255.25 L502.50 255.27 L503.00 255.29 L503.50 255.31 L504.00 255.33 L504.50 255.35 L505.00 255.36 L505.50 255.38 L506.00 255.40 L506.50 255.42 L507.00 255.44 L507.50 255.46 L508.00 255.48 L508.50 255.50 L509.00 255.52 L509.50 255.54 L510.00 255.56 L510.50 255.58 L511.00 255.60 L511.50 255.62 L512.00 255.64 L512.50 255.66 L513.00 255.68 L513.50 255.69 L514.00 255.71 L514.50 255.73 L515.00 255.75 L515.50 255.77 L516.00 255.79 L516.50 255.81 L517.00 255.83 L517.50 255.85 L518.00 255.86 L518.50 255.88 L519.00 255.90 L519.50 255.92 L520.00 255.94 L520.50 255.96 L521.00 255.98 L521.50 256.00 L522.00 256.01 L522.50 256.03 L523.00 256.05 L523.50 256.07 L524.00 256.09 L524.50 256.11 L525.00 256.12 L525.50 256.14 L526.00 256.16 L526.50 256.18 L527.00 256.20 L527.50 256.22 L528.00 256.23 L528.50 256.25 L529.00 256.27 L529.50 256.29 L530.00 256.31 L530.50 256.32 L531.00 256.34 L531.50 256.36 L532.00 256.38 L532.50 256.40 L533.00 256.41 L533.50 256.43 L534.00 256.45" fill="none" stroke="#008000" stroke-width="2.7" stroke-linejoin="round" stroke-linecap="butt"/>
<path d="M68.00 249.94 L69.70 250.06 L71.40 250.43 L73.10 249.35 L74.80 250.09 L76.50 250.56 L78.20 250.59 L79.90 249.14 L81.60 250.06 L83.30 249.97 L85.00 249.73 L86.70 250.64 L88.40 249.75 L90.10 249.57 L91.80 250.55 L93.50 249.91 L95.20 249.22 L96.90 249.22 L98.60 249.57 L100.30 248.66 L102.00 249.74 L103.70 249.98 L105.40 249.33 L107.10 250.12 L108.80 250.23 L110.50 249.42 L112.20 249.60 L113.90 248.39 L115.60 248.18 L117.30 249.94 L119.00 248.45 L120.70 248.21 L122.40 249.48 L124.10 249.09 L125.80 247.75 L127.50 248.06 L129.20 247.81 L130.90 247.75 L132.60 247.07 L134.30 247.90 L136.00 246.99 L137.70 246.46 L139.40 245.30 L141.10 244.54 L142.80 243.82 L144.50 244.84 L146.20 243.79 L147.90 242.53 L149.60 240.76 L151.30 239.90 L153.00 238.90 L154.70 238.38 L156.40 237.03 L158.10 236.77 L159.80 235.94 L161.50 235.14 L163.20 235.12 L164.90 233.77 L166.60 232.85 L166.68 232.82 L166.76 232.78 L166.84 232.74 L166.92 232.71 L167.00 232.67 L167.08 232.64 L167.16 232.61 L167.24 232.57 L167.32 232.54 L167.40 232.51 L167.48 232.47 L167.56 232.44 L167.64 232.40 L167.72 232.37 L167.80 232.33 L167.88 232.29 L167.96 232.25 L168.04 232.21 L168.12 232.16 L168.19 232.12 L168.27 232.07 L168.35 232.01 L168.42 231.96 L168.50 231.90 L168.59 231.82 L168.69 231.74 L168.78 231.65 L168.87 231.56 L168.96 231.47 L169.05 231.37 L169.14 231.27 L169.23 231.17 L169.32 231.07 L169.40 230.96 L169.49 230.85 L169.58 230.74 L169.67 230.62 L169.75 230.51 L169.84 230.39 L169.92 230.27 L170.01 230.15 L170.09 230.03 L170.18 229.91 L170.26 229.79 L170.35 229.67 L170.43 229.54 L170.52 229.42 L170.60 229.30 L170.70 229.16 L170.79 229.02 L170.89 228.88 L170.98 228.74 L171.08 228.59 L171.18 228.45 L171.27 228.30 L171.37 228.15 L171.46 228.00 L171.56 227.85 L171.65 227.69 L171.74 227.54 L171.84 227.38 L171.93 227.23 L172.02 227.07 L172.11 226.91 L172.20 226.75 L172.29 226.59 L172.38 226.43 L172.47 226.26 L172.55 226.10 L172.64 225.93 L172.72 225.77 L172.80 225.60 L172.89 225.42 L172.97 225.24 L173.06 225.06 L173.14 224.87 L173.23 224.69 L173.31 224.50 L173.39 224.32 L173.47 224.13 L173.55 223.94 L173.63 223.76 L173.70 223.56 L173.78 223.37 L173.85 223.18 L173.93 222.98 L174.00 222.78 L174.07 222.58 L174.14 222.38 L174.21 222.18 L174.28 221.97 L174.35 221.76 L174.41 221.55 L174.48 221.34 L174.54 221.12 L174.60 220.90 L174.67 220.63 L174.74 220.35 L174.81 220.07 L174.88 219.78 L174.94 219.49 L175.01 219.19 L175.07 218.89 L175.13 218.59 L175.18 218.28 L175.24 217.97 L175.29 217.66 L175.35 217.35 L175.40 217.03 L175.45 216.72 L175.49 216.40 L175.54 216.08 L175.59 215.75 L175.64 215.43 L175.68 215.11 L175.73 214.79 L175.77 214.46 L175.81 214.14 L175.86 213.82 L175.90 213.50 L175.94 213.16 L175.99 212.83 L176.03 212.49 L176.07 212.17 L176.10 211.84 L176.14 211.51 L176.17 211.19 L176.21 210.86 L176.24 210.53 L176.27 210.20 L176.30 209.87 L176.33 209.54 L176.36 209.20 L176.39 208.85 L176.42 208.50 L176.44 208.15 L176.47 207.79 L176.50 207.42 L176.53 207.04 L176.56 206.65 L176.60 206.26 L176.63 205.85 L176.66 205.43 L176.70 205.00 L176.76 204.29 L176.82 203.55 L176.88 202.79 L176.94 202.00 L177.01 201.20 L177.07 200.37 L177.14 199.52 L177.20 198.65 L177.27 197.77 L177.34 196.86 L177.41 195.95 L177.47 195.02 L177.54 194.07 L177.61 193.12 L177.68 192.15 L177.75 191.18 L177.82 190.20 L177.89 189.21 L177.96 188.21 L178.03 187.22 L178.10 186.21 L178.16 185.21 L178.23 184.20 L178.30 183.20 L178.38 181.94 L178.46 180.66 L178.54 179.34 L178.62 177.99 L178.70 176.62 L178.78 175.23 L178.86 173.82 L178.94 172.39 L179.01 170.95 L179.09 169.51 L179.17 168.05 L179.25 166.60 L179.33 165.14 L179.41 163.69 L179.49 162.24 L179.57 160.81 L179.66 159.38 L179.74 157.97 L179.83 156.58 L179.92 155.21 L180.01 153.86 L180.11 152.54 L180.20 151.26 L180.30 150.00 L180.38 149.00 L180.47 148.01 L180.55 147.04 L180.64 146.07 L180.72 145.11 L180.81 144.16 L180.90 143.22 L180.99 142.29 L181.08 141.37 L181.18 140.45 L181.27 139.54 L181.36 138.64 L181.46 137.75 L181.55 136.86 L181.65 135.97 L181.74 135.09 L181.84 134.22 L181.93 133.35 L182.03 132.48 L182.12 131.62 L182.22 130.76 L182.31 129.91 L182.41 129.05 L182.50 128.20 L182.58 127.44 L182.66 126.68 L182.73 125.92 L182.80 125.16 L182.87 124.39 L182.94 123.62 L183.01 122.86 L183.07 122.10 L183.14 121.34 L183.21 120.59 L183.27 119.84 L183.34 119.10 L183.42 118.37 L183.49 117.64 L183.57 116.93 L183.65 116.23 L183.74 115.55 L183.83 114.87 L183.92 114.22 L184.03 113.58 L184.13 112.95 L184.25 112.35 L184.37 111.76 L184.50 111.20 L184.59 110.83 L184.68 110.44 L184.77 110.05 L184.87 109.66 L184.96 109.26 L185.06 108.87 L185.16 108.47 L185.26 108.08 L185.36 107.70 L185.47 107.32 L185.58 106.95 L185.69 106.60 L185.80 106.26 L185.91 105.93 L186.03 105.62 L186.15 105.34 L186.27 105.07 L186.39 104.83 L186.52 104.61 L186.65 104.43 L186.78 104.27 L186.92 104.14 L187.06 104.05 L187.20 104.00 L187.30 103.98 L187.41 103.98 L187.50 103.99 L188.00 104.22 L188.50 104.64 L189.00 105.20 L189.50 105.83 L190.00 106.48 L190.50 107.18 L191.00 107.98 L191.50 108.87 L192.00 109.88 L192.50 111.01 L193.00 112.24 L193.50 113.57 L194.00 114.97 L194.50 116.41 L195.00 117.88 L195.50 119.35 L196.00 120.82 L196.50 122.31 L197.00 123.82 L197.50 125.34 L198.00 126.87 L198.50 128.41 L199.00 129.96 L199.50 131.50 L200.00 133.05 L200.50 134.59 L201.00 136.12 L201.50 137.65 L202.00 139.16 L202.50 140.65 L203.00 142.13 L203.50 143.59 L204.00 145.04 L204.50 146.46 L205.00 147.86 L205.50 149.24 L206.00 150.60 L206.50 151.93 L207.00 153.25 L207.50 154.55 L208.00 155.83 L208.50 157.09 L209.00 158.33 L209.50 159.56 L210.00 160.77 L210.50 161.95 L211.00 163.13 L211.50 164.28 L212.00 165.41 L212.50 166.51 L213.00 167.60 L213.50 168.66 L214.00 169.69 L214.50 170.69 L215.00 171.66 L215.50 172.60 L216.00 173.50 L216.50 174.37 L217.00 175.20 L217.50 175.99 L218.00 176.74 L218.50 177.45 L219.00 178.12 L219.50 178.74 L220.00 179.33 L220.50 179.87 L221.00 180.37 L221.50 180.83 L222.00 181.25 L222.50 181.63 L223.00 181.98 L223.50 182.29 L224.00 182.57 L224.50 182.81 L225.00 183.03 L225.50 183.22 L226.00 183.39 L226.50 183.54 L227.00 183.66 L227.50 183.77 L228.00 183.87 L228.50 183.96 L229.00 184.03 L229.50 184.10 L230.00 184.16 L230.50 184.22 L231.00 184.28 L231.50 184.34 L232.00 184.39 L232.50 184.44 L233.00 184.50 L233.50 184.55 L234.00 184.60 L234.50 184.65 L235.00 184.70 L235.50 184.76 L236.00 184.81 L236.50 184.86 L237.00 184.91 L237.50 184.96 L238.00 185.00 L238.50 185.05 L239.00 185.10 L239.50 185.15 L240.00 185.20 L240.50 185.24 L241.00 185.29 L241.50 185.33 L242.00 185.38 L242.50 185.43 L243.00 185.47 L243.50 185.52 L244.00 185.57 L244.50 185.61 L245.00 185.66 L245.50 185.71 L246.00 185.76 L246.50 185.81 L247.00 185.87 L247.50 185.92 L248.00 185.98 L248.50 186.05 L249.00 186.11 L249.50 186.18 L250.00 186.25 L250.50 186.32 L251.00 186.40 L251.50 186.49 L252.00 186.58 L252.50 186.67 L253.00 186.77 L253.50 186.87 L254.00 186.98 L254.50 187.10 L255.00 187.23 L255.50 187.36 L256.00 187.49 L256.50 187.64 L257.00 187.79 L257.50 187.95 L258.00 188.12 L258.50 188.29 L259.00 188.47 L259.50 188.66 L260.00 188.86 L260.50 189.06 L261.00 189.28 L261.50 189.49 L262.00 189.72 L262.50 189.96 L263.00 190.20 L263.50 190.45 L264.00 190.70 L264.50 190.97 L265.00 191.24 L265.50 191.51 L266.00 191.80 L266.50 192.09 L267.00 192.39 L267.50 192.69 L268.00 193.01 L268.50 193.33 L269.00 193.65 L269.50 193.99 L270.00 194.33 L270.50 194.67 L271.00 195.03 L271.50 195.39 L272.00 195.75 L272.50 196.13 L273.00 196.51 L273.50 196.89 L274.00 197.28 L274.50 197.68 L275.00 198.09 L275.50 198.50 L276.00 198.91 L276.50 199.33 L277.00 199.76 L277.50 200.19 L278.00 200.63 L278.50 201.07 L279.00 201.52 L279.50 201.97 L280.00 202.43 L280.50 202.89 L281.00 203.35 L281.50 203.82 L282.00 204.29 L282.50 204.77 L283.00 205.25 L283.50 205.73 L284.00 206.22 L284.50 206.71 L285.00 207.20 L285.50 207.69 L286.00 208.19 L286.50 208.68 L287.00 209.18 L287.50 209.68 L288.00 210.18 L288.50 210.69 L289.00 211.19 L289.50 211.69 L290.00 212.20 L290.50 212.70 L291.00 213.20 L291.50 213.70 L292.00 214.20 L292.50 214.70 L293.00 215.20 L293.50 215.69 L294.00 216.18 L294.50 216.67 L295.00 217.16 L295.50 217.64 L296.00 218.12 L296.50 218.60 L297.00 219.07 L297.50 219.54 L298.00 220.01 L298.50 220.46 L299.00 220.92 L299.50 221.37 L300.00 221.81 L300.50 222.25 L301.00 222.68 L301.50 223.10 L302.00 223.52 L302.50 223.94 L303.00 224.35 L303.50 224.75 L304.00 225.14 L304.50 225.53 L305.00 225.91 L305.50 226.28 L306.00 226.65 L306.50 227.01 L307.00 227.36 L307.50 227.71 L308.00 228.05 L308.50 228.38 L309.00 228.71 L309.50 229.03 L310.00 229.35 L310.50 229.65 L311.00 229.95 L311.50 230.25 L312.00 230.54 L312.50 230.82 L313.00 231.10 L313.50 231.37 L314.00 231.64 L314.50 231.90 L315.00 232.15 L315.50 232.41 L316.00 232.65 L316.50 232.89 L317.00 233.13 L317.50 233.37 L318.00 233.60 L318.50 233.82 L319.00 234.04 L319.50 234.26 L320.00 234.48 L320.50 234.69 L321.00 234.90 L321.50 235.11 L322.00 235.31 L322.50 235.51 L323.00 235.71 L323.50 235.90 L324.00 236.10 L324.50 236.29 L325.00 236.48 L325.50 236.66 L326.00 236.85 L326.50 237.03 L327.00 237.21 L327.50 237.39 L328.00 237.56 L328.50 237.74 L329.00 237.91 L329.50 238.08 L330.00 238.25 L330.50 238.41 L331.00 238.58 L331.50 238.74 L332.00 238.90 L332.50 239.06 L333.00 239.21 L333.50 239.36 L334.00 239.52 L334.50 239.67 L335.00 239.81 L335.50 239.96 L336.00 240.10 L336.50 240.24 L337.00 240.38 L337.50 240.52 L338.00 240.65 L338.50 240.78 L339.00 240.91 L339.50 241.04 L340.00 241.16 L340.50 241.29 L341.00 241.41 L341.50 241.52 L342.00 241.64 L342.50 241.75 L343.00 241.86 L343.50 241.97 L344.00 242.08 L344.50 242.18 L345.00 242.28 L345.50 242.38 L346.00 242.48 L346.50 242.57 L347.00 242.67 L347.50 242.76 L348.00 242.85 L348.50 242.93 L349.00 243.02 L349.50 243.10 L350.00 243.19 L350.50 243.27 L351.00 243.35 L351.50 243.43 L352.00 243.50 L352.50 243.58 L353.00 243.66 L353.50 243.73 L354.00 243.80 L354.50 243.88 L355.00 243.95 L355.50 244.02 L356.00 244.09 L356.50 244.16 L357.00 244.23 L357.50 244.30 L358.00 244.37 L358.50 244.44 L359.00 244.51 L359.50 244.57 L360.00 244.64 L360.50 244.71 L361.00 244.78 L361.50 244.84 L362.00 244.91 L362.50 244.98 L363.00 245.05 L363.50 245.11 L364.00 245.18 L364.50 245.24 L365.00 245.31 L365.50 245.37 L366.00 245.44 L366.50 245.50 L367.00 245.57 L367.50 245.63 L368.00 245.70 L368.50 245.76 L369.00 245.82 L369.50 245.89 L370.00 245.95 L370.50 246.01 L371.00 246.07 L371.50 246.13 L372.00 246.19 L372.50 246.26 L373.00 246.32 L373.50 246.37 L374.00 246.43 L374.50 246.49 L375.00 246.55 L375.50 246.61 L376.00 246.67 L376.50 246.72 L377.00 246.78 L377.50 246.84 L378.00 246.89 L378.50 246.95 L379.00 247.00 L379.50 247.06 L380.00 247.11 L380.50 247.17 L381.00 247.22 L381.50 247.27 L382.00 247.33 L382.50 247.38 L383.00 247.43 L383.50 247.48 L384.00 247.53 L384.50 247.59 L385.00 247.64 L385.50 247.69 L386.00 247.74 L386.50 247.79 L387.00 247.84 L387.50 247.89 L388.00 247.93 L388.50 247.98 L389.00 248.03 L389.50 248.08 L390.00 248.13 L390.50 248.18 L391.00 248.22 L391.50 248.27 L392.00 248.32 L392.50 248.36 L393.00 248.41 L393.50 248.46 L394.00 248.50 L394.50 248.55 L395.00 248.60 L395.50 248.64 L396.00 248.69 L396.50 248.73 L397.00 248.78 L397.50 248.82 L398.00 248.86 L398.50 248.91 L399.00 248.95 L399.50 249.00 L400.00 249.04 L400.50 249.08 L401.00 249.13 L401.50 249.17 L402.00 249.21 L402.50 249.25 L403.00 249.30 L403.50 249.34 L404.00 249.38 L404.50 249.42 L405.00 249.46 L405.50 249.50 L406.00 249.55 L406.50 249.59 L407.00 249.63 L407.50 249.67 L408.00 249.71 L408.50 249.75 L409.00 249.79 L409.50 249.83 L410.00 249.87 L410.50 249.91 L411.00 249.95 L411.50 249.99 L412.00 250.02 L412.50 250.06 L413.00 250.10 L413.50 250.14 L414.00 250.18 L414.50 250.22 L415.00 250.25 L415.50 250.29 L416.00 250.33 L416.50 250.37 L417.00 250.40 L417.50 250.44 L418.00 250.48 L418.50 250.51 L419.00 250.55 L419.50 250.58 L420.00 250.62 L420.50 250.66 L421.00 250.69 L421.50 250.73 L422.00 250.76 L422.50 250.80 L423.00 250.83 L423.50 250.87 L424.00 250.90 L424.50 250.93 L425.00 250.97 L425.50 251.00 L426.00 251.04 L426.50 251.07 L427.00 251.10 L427.50 251.14 L428.00 251.17 L428.50 251.20 L429.00 251.23 L429.50 251.27 L430.00 251.30 L430.50 251.33 L431.00 251.36 L431.50 251.39 L432.00 251.43 L432.50 251.46 L433.00 251.49 L433.50 251.52 L434.00 251.55 L434.50 251.58 L435.00 251.61 L435.50 251.64 L436.00 251.67 L436.50 251.70 L437.00 251.73 L437.50 251.76 L438.00 251.79 L438.50 251.82 L439.00 251.85 L439.50 251.88 L440.00 251.91 L440.50 251.94 L441.00 251.97 L441.50 252.00 L442.00 252.03 L442.50 252.05 L443.00 252.08 L443.50 252.11 L444.00 252.14 L444.50 252.17 L445.00 252.19 L445.50 252.22 L446.00 252.25 L446.50 252.28 L447.00 252.30 L447.50 252.33 L448.00 252.36 L448.50 252.39 L449.00 252.41 L449.50 252.44 L450.00 252.47 L450.50 252.49 L451.00 252.52 L451.50 252.55 L452.00 252.57 L452.50 252.60 L453.00 252.62 L453.50 252.65 L454.00 252.68 L454.50 252.70 L455.00 252.73 L455.50 252.75 L456.00 252.78 L456.50 252.80 L457.00 252.83 L457.50 252.86 L458.00 252.88 L458.50 252.91 L459.00 252.93 L459.50 252.96 L460.00 252.98 L460.50 253.01 L461.00 253.03 L461.50 253.05 L462.00 253.08 L462.50 253.10 L463.00 253.13 L463.50 253.15 L464.00 253.18 L464.50 253.20 L465.00 253.23 L465.50 253.25 L466.00 253.27 L466.50 253.30 L467.00 253.32 L467.50 253.34 L468.00 253.37 L468.50 253.39 L469.00 253.42 L469.50 253.44 L470.00 253.46 L470.50 253.49 L471.00 253.51 L471.50 253.53 L472.00 253.56 L472.50 253.58 L473.00 253.60 L473.50 253.63 L474.00 253.65 L474.50 253.67 L475.00 253.69 L475.50 253.72 L476.00 253.74 L476.50 253.76 L477.00 253.79 L477.50 253.81 L478.00 253.83 L478.50 253.85 L479.00 253.88 L479.50 253.90 L480.00 253.92 L480.50 253.94 L481.00 253.96 L481.50 253.99 L482.00 254.01 L482.50 254.03 L483.00 254.05 L483.50 254.07 L484.00 254.10 L484.50 254.12 L485.00 254.14 L485.50 254.16 L486.00 254.18 L486.50 254.20 L487.00 254.23 L487.50 254.25 L488.00 254.27 L488.50 254.29 L489.00 254.31 L489.50 254.33 L490.00 254.35 L490.50 254.37 L491.00 254.40 L491.50 254.42 L492.00 254.44 L492.50 254.46 L493.00 254.48 L493.50 254.50 L494.00 254.52 L494.50 254.54 L495.00 254.56 L495.50 254.58 L496.00 254.60 L496.50 254.62 L497.00 254.64 L497.50 254.66 L498.00 254.68 L498.50 254.71 L499.00 254.73 L499.50 254.75 L500.00 254.77 L500.50 254.79 L501.00 254.81 L501.50 254.83 L502.00 254.85 L502.50 254.87 L503.00 254.89 L503.50 254.91 L504.00 254.93 L504.50 254.95 L505.00 254.96 L505.50 254.98 L506.00 255.00 L506.50 255.02 L507.00 255.04 L507.50 255.06 L508.00 255.08 L508.50 255.10 L509.00 255.12 L509.50 255.14 L510.00 255.16 L510.50 255.18 L511.00 255.20 L511.50 255.22 L512.00 255.24 L512.50 255.26 L513.00 255.28 L513.50 255.29 L514.00 255.31 L514.50 255.33 L515.00 255.35 L515.50 255.37 L516.00 255.39 L516.50 255.41 L517.00 255.43 L517.50 255.45 L518.00 255.46 L518.50 255.48 L519.00 255.50 L519.50 255.52 L520.00 255.54 L520.50 255.56 L521.00 255.58 L521.50 255.60 L522.00 255.61 L522.50 255.63 L523.00 255.65 L523.50 255.67 L524.00 255.69 L524.50 255.71 L525.00 255.72 L525.50 255.74 L526.00 255.76 L526.50 255.78 L527.00 255.80 L527.50 255.82 L528.00 255.83 L528.50 255.85 L529.00 255.87 L529.50 255.89 L530.00 255.91 L530.50 255.92 L531.00 255.94 L531.50 255.96 L532.00 255.98 L532.50 256.00 L533.00 256.01 L533.50 256.03 L534.00 256.05" fill="none" stroke="#0000ff" stroke-width="2.7" stroke-linejoin="round" stroke-linecap="butt"/>
<path d="M68.00 245.39 L69.70 245.62 L71.40 246.29 L73.10 244.63 L74.80 244.67 L76.50 244.14 L78.20 244.27 L79.90 243.94 L81.60 244.21 L83.30 244.95 L85.00 245.96 L86.70 245.20 L88.40 244.40 L90.10 244.38 L91.80 244.95 L93.50 244.02 L95.20 243.34 L96.90 245.02 L98.60 244.41 L100.30 243.16 L102.00 242.99 L103.70 242.98 L105.40 244.91 L107.10 242.91 L108.80 244.06 L110.50 244.82 L112.20 242.64 L113.90 243.41 L115.60 243.59 L117.30 244.57 L119.00 242.85 L120.70 242.97 L122.40 242.88 L124.10 242.36 L125.80 243.70 L127.50 243.90 L129.20 242.85 L130.90 241.72 L132.60 243.03 L134.30 242.78 L136.00 242.05 L137.70 240.56 L139.40 240.98 L141.10 239.97 L142.80 239.42 L144.50 238.67 L146.20 236.99 L147.90 236.33 L149.60 235.93 L151.30 234.62 L153.00 232.80 L154.70 232.88 L156.40 231.96 L158.10 229.23 L159.80 228.63 L161.50 227.90 L163.20 226.55 L164.90 227.07 L166.60 226.04 L166.66 226.01 L166.72 225.97 L166.77 225.93 L166.83 225.89 L166.89 225.86 L166.95 225.82 L167.01 225.79 L167.06 225.76 L167.12 225.72 L167.18 225.69 L167.24 225.65 L167.29 225.62 L167.35 225.58 L167.41 225.54 L167.47 225.51 L167.53 225.47 L167.58 225.43 L167.64 225.39 L167.70 225.34 L167.76 225.30 L167.82 225.25 L167.88 225.20 L167.94 225.15 L168.00 225.10 L168.08 225.02 L168.17 224.94 L168.25 224.85 L168.34 224.77 L168.43 224.67 L168.51 224.58 L168.60 224.48 L168.69 224.38 L168.78 224.27 L168.87 224.17 L168.95 224.06 L169.04 223.95 L169.13 223.84 L169.22 223.73 L169.31 223.61 L169.40 223.50 L169.49 223.39 L169.58 223.27 L169.66 223.16 L169.75 223.04 L169.84 222.93 L169.93 222.82 L170.01 222.71 L170.10 222.60 L170.19 222.49 L170.28 222.38 L170.37 222.27 L170.46 222.16 L170.55 222.05 L170.65 221.94 L170.74 221.82 L170.83 221.71 L170.92 221.60 L171.01 221.49 L171.10 221.38 L171.20 221.27 L171.29 221.15 L171.37 221.04 L171.46 220.92 L171.55 220.80 L171.64 220.69 L171.72 220.56 L171.81 220.44 L171.89 220.32 L171.97 220.19 L172.05 220.06 L172.12 219.93 L172.20 219.80 L172.28 219.65 L172.37 219.49 L172.45 219.33 L172.52 219.18 L172.60 219.01 L172.68 218.85 L172.75 218.69 L172.83 218.52 L172.90 218.35 L172.97 218.18 L173.04 218.01 L173.10 217.83 L173.17 217.66 L173.24 217.48 L173.30 217.30 L173.36 217.12 L173.42 216.93 L173.48 216.75 L173.54 216.56 L173.59 216.37 L173.65 216.18 L173.70 215.99 L173.75 215.80 L173.80 215.60 L173.86 215.36 L173.91 215.11 L173.96 214.86 L174.00 214.60 L174.05 214.34 L174.09 214.07 L174.12 213.80 L174.16 213.53 L174.19 213.25 L174.22 212.97 L174.25 212.69 L174.28 212.41 L174.31 212.13 L174.33 211.85 L174.36 211.57 L174.38 211.29 L174.41 211.01 L174.43 210.74 L174.46 210.47 L174.48 210.21 L174.51 209.95 L174.54 209.69 L174.57 209.44 L174.60 209.20 L174.63 209.01 L174.65 208.83 L174.68 208.65 L174.70 208.48 L174.73 208.31 L174.75 208.15 L174.78 207.99 L174.81 207.83 L174.83 207.67 L174.86 207.52 L174.88 207.36 L174.91 207.21 L174.93 207.05 L174.96 206.89 L174.98 206.73 L175.01 206.56 L175.03 206.39 L175.05 206.21 L175.08 206.03 L175.10 205.84 L175.13 205.64 L175.15 205.44 L175.18 205.22 L175.20 205.00 L175.24 204.55 L175.29 204.07 L175.33 203.57 L175.38 203.04 L175.42 202.48 L175.46 201.90 L175.50 201.30 L175.54 200.69 L175.58 200.05 L175.62 199.41 L175.66 198.75 L175.70 198.08 L175.74 197.40 L175.78 196.72 L175.83 196.03 L175.87 195.34 L175.91 194.65 L175.95 193.97 L175.99 193.28 L176.03 192.61 L176.07 191.94 L176.11 191.28 L176.16 190.63 L176.20 190.00 L176.24 189.38 L176.29 188.76 L176.33 188.15 L176.37 187.54 L176.41 186.94 L176.45 186.34 L176.49 185.74 L176.53 185.14 L176.58 184.54 L176.62 183.94 L176.66 183.34 L176.70 182.74 L176.75 182.13 L176.79 181.52 L176.83 180.90 L176.88 180.28 L176.93 179.65 L176.98 179.02 L177.03 178.37 L177.08 177.72 L177.13 177.06 L177.18 176.38 L177.24 175.70 L177.30 175.00 L177.38 174.08 L177.46 173.15 L177.55 172.19 L177.65 171.23 L177.74 170.24 L177.84 169.25 L177.95 168.24 L178.05 167.22 L178.16 166.19 L178.27 165.15 L178.38 164.10 L178.49 163.04 L178.60 161.97 L178.71 160.90 L178.82 159.82 L178.93 158.74 L179.03 157.65 L179.14 156.56 L179.24 155.47 L179.34 154.37 L179.44 153.28 L179.53 152.18 L179.62 151.09 L179.70 150.00 L179.79 148.80 L179.87 147.59 L179.95 146.36 L180.03 145.13 L180.10 143.88 L180.17 142.63 L180.24 141.37 L180.30 140.10 L180.37 138.83 L180.43 137.56 L180.49 136.28 L180.55 135.00 L180.61 133.72 L180.67 132.45 L180.73 131.17 L180.79 129.90 L180.85 128.63 L180.91 127.37 L180.97 126.12 L181.03 124.87 L181.09 123.64 L181.16 122.41 L181.23 121.20 L181.30 120.00 L181.37 118.91 L181.43 117.83 L181.50 116.75 L181.57 115.67 L181.64 114.59 L181.70 113.52 L181.77 112.46 L181.84 111.39 L181.91 110.33 L181.98 109.28 L182.05 108.23 L182.12 107.18 L182.19 106.14 L182.27 105.10 L182.34 104.07 L182.41 103.04 L182.48 102.02 L182.55 101.00 L182.63 99.99 L182.70 98.98 L182.78 97.98 L182.85 96.98 L182.92 95.99 L183.00 95.00 L183.07 94.12 L183.14 93.24 L183.20 92.36 L183.27 91.49 L183.34 90.61 L183.41 89.74 L183.48 88.87 L183.55 88.01 L183.62 87.15 L183.69 86.29 L183.76 85.44 L183.83 84.59 L183.90 83.75 L183.97 82.91 L184.04 82.09 L184.11 81.26 L184.19 80.45 L184.26 79.64 L184.33 78.85 L184.40 78.06 L184.48 77.28 L184.55 76.51 L184.63 75.75 L184.70 75.00 L184.76 74.40 L184.81 73.81 L184.86 73.21 L184.91 72.62 L184.96 72.04 L185.00 71.46 L185.05 70.88 L185.09 70.31 L185.14 69.74 L185.18 69.18 L185.23 68.62 L185.28 68.07 L185.33 67.53 L185.38 66.99 L185.44 66.45 L185.50 65.93 L185.56 65.41 L185.64 64.90 L185.71 64.40 L185.79 63.90 L185.88 63.41 L185.98 62.93 L186.09 62.46 L186.20 62.00 L186.29 61.64 L186.39 61.26 L186.50 60.87 L186.61 60.48 L186.72 60.07 L186.84 59.67 L186.96 59.26 L187.08 58.85 L187.21 58.45 L187.34 58.06 L187.47 57.67 L187.60 57.30 L187.73 56.94 L187.87 56.60 L188.00 56.28 L188.14 55.98 L188.28 55.70 L188.41 55.46 L188.55 55.24 L188.68 55.05 L188.81 54.91 L188.94 54.80 L189.07 54.73 L189.20 54.70 L189.70 55.01 L190.20 55.84 L190.70 57.02 L191.20 58.37 L191.70 59.71 L192.20 60.99 L192.70 62.40 L193.20 63.90 L193.70 65.39 L194.20 66.81 L194.70 68.19 L195.20 69.57 L195.70 71.03 L196.20 72.60 L196.70 74.28 L197.20 76.03 L197.70 77.83 L198.20 79.63 L198.70 81.45 L199.20 83.29 L199.70 85.13 L200.20 86.98 L200.70 88.85 L201.20 90.72 L201.70 92.61 L202.20 94.50 L202.70 96.40 L203.20 98.31 L203.70 100.22 L204.20 102.14 L204.70 104.05 L205.20 105.97 L205.70 107.88 L206.20 109.78 L206.70 111.68 L207.20 113.57 L207.70 115.44 L208.20 117.29 L208.70 119.13 L209.20 120.94 L209.70 122.72 L210.20 124.48 L210.70 126.20 L211.20 127.89 L211.70 129.54 L212.20 131.15 L212.70 132.72 L213.20 134.24 L213.70 135.71 L214.20 137.13 L214.70 138.50 L215.20 139.81 L215.70 141.07 L216.20 142.27 L216.70 143.42 L217.20 144.51 L217.70 145.54 L218.20 146.51 L218.70 147.43 L219.20 148.29 L219.70 149.09 L220.20 149.84 L220.70 150.54 L221.20 151.18 L221.70 151.77 L222.20 152.31 L222.70 152.81 L223.20 153.26 L223.70 153.67 L224.20 154.04 L224.70 154.38 L225.20 154.68 L225.70 154.95 L226.20 155.18 L226.70 155.39 L227.20 155.58 L227.70 155.74 L228.20 155.89 L228.70 156.01 L229.20 156.12 L229.70 156.21 L230.20 156.30 L230.70 156.37 L231.20 156.43 L231.70 156.49 L232.20 156.54 L232.70 156.59 L233.20 156.64 L233.70 156.68 L234.20 156.72 L234.70 156.75 L235.20 156.79 L235.70 156.82 L236.20 156.85 L236.70 156.87 L237.20 156.90 L237.70 156.92 L238.20 156.94 L238.70 156.96 L239.20 156.98 L239.70 157.00 L240.20 157.02 L240.70 157.03 L241.20 157.05 L241.70 157.07 L242.20 157.08 L242.70 157.10 L243.20 157.12 L243.70 157.14 L244.20 157.16 L244.70 157.18 L245.20 157.21 L245.70 157.24 L246.20 157.27 L246.70 157.30 L247.20 157.34 L247.70 157.38 L248.20 157.42 L248.70 157.47 L249.20 157.53 L249.70 157.59 L250.20 157.66 L250.70 157.73 L251.20 157.81 L251.70 157.90 L252.20 157.99 L252.70 158.10 L253.20 158.21 L253.70 158.34 L254.20 158.47 L254.70 158.62 L255.20 158.78 L255.70 158.94 L256.20 159.12 L256.70 159.32 L257.20 159.52 L257.70 159.74 L258.20 159.97 L258.70 160.21 L259.20 160.46 L259.70 160.73 L260.20 161.01 L260.70 161.30 L261.20 161.60 L261.70 161.92 L262.20 162.24 L262.70 162.58 L263.20 162.93 L263.70 163.29 L264.20 163.66 L264.70 164.05 L265.20 164.44 L265.70 164.84 L266.20 165.26 L266.70 165.68 L267.20 166.12 L267.70 166.56 L268.20 167.02 L268.70 167.48 L269.20 167.95 L269.70 168.44 L270.20 168.93 L270.70 169.42 L271.20 169.93 L271.70 170.45 L272.20 170.97 L272.70 171.50 L273.20 172.04 L273.70 172.58 L274.20 173.13 L274.70 173.69 L275.20 174.26 L275.70 174.83 L276.20 175.41 L276.70 175.99 L277.20 176.58 L277.70 177.18 L278.20 177.78 L278.70 178.39 L279.20 179.00 L279.70 179.62 L280.20 180.25 L280.70 180.88 L281.20 181.51 L281.70 182.15 L282.20 182.80 L282.70 183.45 L283.20 184.10 L283.70 184.76 L284.20 185.42 L284.70 186.08 L285.20 186.75 L285.70 187.42 L286.20 188.10 L286.70 188.77 L287.20 189.45 L287.70 190.13 L288.20 190.81 L288.70 191.50 L289.20 192.18 L289.70 192.86 L290.20 193.55 L290.70 194.23 L291.20 194.92 L291.70 195.60 L292.20 196.28 L292.70 196.96 L293.20 197.64 L293.70 198.32 L294.20 198.99 L294.70 199.66 L295.20 200.32 L295.70 200.99 L296.20 201.64 L296.70 202.29 L297.20 202.94 L297.70 203.58 L298.20 204.22 L298.70 204.84 L299.20 205.47 L299.70 206.08 L300.20 206.69 L300.70 207.29 L301.20 207.88 L301.70 208.47 L302.20 209.04 L302.70 209.61 L303.20 210.17 L303.70 210.73 L304.20 211.27 L304.70 211.81 L305.20 212.34 L305.70 212.86 L306.20 213.37 L306.70 213.87 L307.20 214.37 L307.70 214.86 L308.20 215.34 L308.70 215.81 L309.20 216.28 L309.70 216.74 L310.20 217.19 L310.70 217.63 L311.20 218.07 L311.70 218.50 L312.20 218.92 L312.70 219.33 L313.20 219.74 L313.70 220.14 L314.20 220.53 L314.70 220.92 L315.20 221.30 L315.70 221.67 L316.20 222.04 L316.70 222.40 L317.20 222.75 L317.70 223.10 L318.20 223.44 L318.70 223.77 L319.20 224.09 L319.70 224.42 L320.20 224.73 L320.70 225.04 L321.20 225.34 L321.70 225.63 L322.20 225.92 L322.70 226.21 L323.20 226.49 L323.70 226.76 L324.20 227.02 L324.70 227.28 L325.20 227.54 L325.70 227.79 L326.20 228.04 L326.70 228.28 L327.20 228.51 L327.70 228.74 L328.20 228.97 L328.70 229.19 L329.20 229.40 L329.70 229.61 L330.20 229.82 L330.70 230.03 L331.20 230.22 L331.70 230.42 L332.20 230.61 L332.70 230.80 L333.20 230.98 L333.70 231.16 L334.20 231.34 L334.70 231.51 L335.20 231.69 L335.70 231.85 L336.20 232.02 L336.70 232.18 L337.20 232.34 L337.70 232.50 L338.20 232.65 L338.70 232.80 L339.20 232.95 L339.70 233.10 L340.20 233.24 L340.70 233.38 L341.20 233.52 L341.70 233.66 L342.20 233.80 L342.70 233.93 L343.20 234.07 L343.70 234.20 L344.20 234.33 L344.70 234.46 L345.20 234.59 L345.70 234.71 L346.20 234.84 L346.70 234.96 L347.20 235.08 L347.70 235.20 L348.20 235.32 L348.70 235.44 L349.20 235.56 L349.70 235.67 L350.20 235.79 L350.70 235.90 L351.20 236.02 L351.70 236.13 L352.20 236.24 L352.70 236.35 L353.20 236.46 L353.70 236.57 L354.20 236.68 L354.70 236.79 L355.20 236.89 L355.70 237.00 L356.20 237.10 L356.70 237.21 L357.20 237.31 L357.70 237.42 L358.20 237.52 L358.70 237.62 L359.20 237.72 L359.70 237.82 L360.20 237.92 L360.70 238.02 L361.20 238.12 L361.70 238.22 L362.20 238.31 L362.70 238.41 L363.20 238.50 L363.70 238.60 L364.20 238.69 L364.70 238.79 L365.20 238.88 L365.70 238.97 L366.20 239.06 L366.70 239.15 L367.20 239.24 L367.70 239.33 L368.20 239.42 L368.70 239.50 L369.20 239.59 L369.70 239.68 L370.20 239.76 L370.70 239.85 L371.20 239.93 L371.70 240.01 L372.20 240.09 L372.70 240.18 L373.20 240.26 L373.70 240.34 L374.20 240.42 L374.70 240.49 L375.20 240.57 L375.70 240.65 L376.20 240.73 L376.70 240.80 L377.20 240.88 L377.70 240.95 L378.20 241.03 L378.70 241.10 L379.20 241.17 L379.70 241.24 L380.20 241.32 L380.70 241.39 L381.20 241.46 L381.70 241.53 L382.20 241.60 L382.70 241.67 L383.20 241.73 L383.70 241.80 L384.20 241.87 L384.70 241.94 L385.20 242.00 L385.70 242.07 L386.20 242.13 L386.70 242.20 L387.20 242.26 L387.70 242.33 L388.20 242.39 L388.70 242.45 L389.20 242.52 L389.70 242.58 L390.20 242.64 L390.70 242.70 L391.20 242.76 L391.70 242.82 L392.20 242.88 L392.70 242.94 L393.20 243.00 L393.70 243.06 L394.20 243.12 L394.70 243.18 L395.20 243.24 L395.70 243.30 L396.20 243.35 L396.70 243.41 L397.20 243.47 L397.70 243.52 L398.20 243.58 L398.70 243.64 L399.20 243.69 L399.70 243.75 L400.20 243.80 L400.70 243.86 L401.20 243.91 L401.70 243.96 L402.20 244.02 L402.70 244.07 L403.20 244.12 L403.70 244.18 L404.20 244.23 L404.70 244.28 L405.20 244.33 L405.70 244.38 L406.20 244.44 L406.70 244.49 L407.20 244.54 L407.70 244.59 L408.20 244.64 L408.70 244.69 L409.20 244.74 L409.70 244.79 L410.20 244.83 L410.70 244.88 L411.20 244.93 L411.70 244.98 L412.20 245.03 L412.70 245.07 L413.20 245.12 L413.70 245.17 L414.20 245.22 L414.70 245.26 L415.20 245.31 L415.70 245.35 L416.20 245.40 L416.70 245.45 L417.20 245.49 L417.70 245.54 L418.20 245.58 L418.70 245.63 L419.20 245.67 L419.70 245.71 L420.20 245.76 L420.70 245.80 L421.20 245.84 L421.70 245.89 L422.20 245.93 L422.70 245.97 L423.20 246.01 L423.70 246.06 L424.20 246.10 L424.70 246.14 L425.20 246.18 L425.70 246.22 L426.20 246.26 L426.70 246.30 L427.20 246.35 L427.70 246.39 L428.20 246.43 L428.70 246.47 L429.20 246.51 L429.70 246.55 L430.20 246.58 L430.70 246.62 L431.20 246.66 L431.70 246.70 L432.20 246.74 L432.70 246.78 L433.20 246.82 L433.70 246.86 L434.20 246.89 L434.70 246.93 L435.20 246.97 L435.70 247.01 L436.20 247.04 L436.70 247.08 L437.20 247.12 L437.70 247.15 L438.20 247.19 L438.70 247.23 L439.20 247.26 L439.70 247.30 L440.20 247.33 L440.70 247.37 L441.20 247.41 L441.70 247.44 L442.20 247.48 L442.70 247.51 L443.20 247.55 L443.70 247.58 L444.20 247.62 L444.70 247.65 L445.20 247.69 L445.70 247.72 L446.20 247.75 L446.70 247.79 L447.20 247.82 L447.70 247.86 L448.20 247.89 L448.70 247.92 L449.20 247.96 L449.70 247.99 L450.20 248.02 L450.70 248.06 L451.20 248.09 L451.70 248.12 L452.20 248.15 L452.70 248.19 L453.20 248.22 L453.70 248.25 L454.20 248.28 L454.70 248.32 L455.20 248.35 L455.70 248.38 L456.20 248.41 L456.70 248.44 L457.20 248.48 L457.70 248.51 L458.20 248.54 L458.70 248.57 L459.20 248.60 L459.70 248.63 L460.20 248.66 L460.70 248.69 L461.20 248.72 L461.70 248.75 L462.20 248.78 L462.70 248.82 L463.20 248.85 L463.70 248.88 L464.20 248.91 L464.70 248.94 L465.20 248.97 L465.70 249.00 L466.20 249.03 L466.70 249.05 L467.20 249.08 L467.70 249.11 L468.20 249.14 L468.70 249.17 L469.20 249.20 L469.70 249.23 L470.20 249.26 L470.70 249.29 L471.20 249.32 L471.70 249.35 L472.20 249.38 L472.70 249.40 L473.20 249.43 L473.70 249.46 L474.20 249.49 L474.70 249.52 L475.20 249.55 L475.70 249.58 L476.20 249.60 L476.70 249.63 L477.20 249.66 L477.70 249.69 L478.20 249.72 L478.70 249.74 L479.20 249.77 L479.70 249.80 L480.20 249.83 L480.70 249.85 L481.20 249.88 L481.70 249.91 L482.20 249.94 L482.70 249.96 L483.20 249.99 L483.70 250.02 L484.20 250.05 L484.70 250.07 L485.20 250.10 L485.70 250.13 L486.20 250.16 L486.70 250.18 L487.20 250.21 L487.70 250.24 L488.20 250.26 L488.70 250.29 L489.20 250.32 L489.70 250.34 L490.20 250.37 L490.70 250.40 L491.20 250.42 L491.70 250.45 L492.20 250.48 L492.70 250.50 L493.20 250.53 L493.70 250.56 L494.20 250.58 L494.70 250.61 L495.20 250.64 L495.70 250.66 L496.20 250.69 L496.70 250.71 L497.20 250.74 L497.70 250.77 L498.20 250.79 L498.70 250.82 L499.20 250.85 L499.70 250.87 L500.20 250.90 L500.70 250.92 L501.20 250.95 L501.70 250.97 L502.20 251.00 L502.70 251.03 L503.20 251.05 L503.70 251.08 L504.20 251.10 L504.70 251.13 L505.20 251.16 L505.70 251.18 L506.20 251.21 L506.70 251.23 L507.20 251.26 L507.70 251.28 L508.20 251.31 L508.70 251.33 L509.20 251.36 L509.70 251.38 L510.20 251.41 L510.70 251.44 L511.20 251.46 L511.70 251.49 L512.20 251.51 L512.70 251.54 L513.20 251.56 L513.70 251.59 L514.20 251.61 L514.70 251.64 L515.20 251.66 L515.70 251.69 L516.20 251.71 L516.70 251.74 L517.20 251.76 L517.70 251.79 L518.20 251.81 L518.70 251.84 L519.20 251.86 L519.70 251.89 L520.20 251.91 L520.70 251.93 L521.20 251.96 L521.70 251.98 L522.20 252.01 L522.70 252.03 L523.20 252.06 L523.70 252.08 L524.20 252.11 L524.70 252.13 L525.20 252.16 L525.70 252.18 L526.20 252.20 L526.70 252.23 L527.20 252.25 L527.70 252.28 L528.20 252.30 L528.70 252.33 L529.20 252.35 L529.70 252.37 L530.20 252.40 L530.70 252.42 L531.20 252.45 L531.70 252.47 L532.20 252.49 L532.70 252.52 L533.20 252.54 L533.70 252.57" fill="none" stroke="#ff0000" stroke-width="2.7" stroke-linejoin="round" stroke-linecap="butt"/>
<line x1="381.4" y1="25.0" x2="417.7" y2="25.0" stroke="#000000" stroke-width="2.7" stroke-linecap="round"/>
<text x="421.5" y="29.80" class="lg">CPF</text>
<line x1="381.4" y1="47.6" x2="417.7" y2="47.6" stroke="#008000" stroke-width="2.7" stroke-linecap="round"/>
<text x="421.5" y="52.40" class="lg">CPZBF-0.5</text>
<line x1="381.4" y1="70.2" x2="417.7" y2="70.2" stroke="#0000ff" stroke-width="2.7" stroke-linecap="round"/>
<text x="421.5" y="75.00" class="lg">CPZBF-1.0</text>
<line x1="381.4" y1="92.8" x2="417.7" y2="92.8" stroke="#ff0000" stroke-width="2.7" stroke-linecap="round"/>
<text x="421.5" y="97.60" class="lg">CPZBF-1.5</text>
<text x="235.4" y="323.3" class="ax" style="font-size:19.35px">Wavelength ( nm)</text>
<text transform="translate(17.7,196.8) rotate(-90)" x="0" y="0" class="ax" style="font-size:19.25px">Absorbance</text>
</svg>
</body></html>
